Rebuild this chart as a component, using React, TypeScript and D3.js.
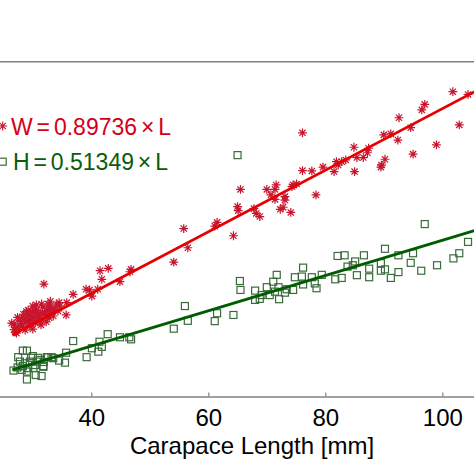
import React, { useEffect, useRef } from 'react';
import * as d3 from 'd3';

// Carapace length L [mm] vs width W and height H
const widthPoints: [number, number][] = [
  [101.8, 94.7], [104.4, 93.9], [102.9, 85.0], [97.0, 91.0], [96.5, 89.4],
  [92.6, 87.1], [94.6, 84.2], [91.2, 82.4], [90.0, 82.1], [92.4, 80.6],
  [99.0, 79.2], [95.0, 76.5], [84.9, 78.5], [87.4, 78.2], [87.2, 76.9],
  [86.5, 75.5], [85.4, 75.5], [90.2, 75.0], [89.6, 73.3], [89.5, 72.7],
  [85.0, 71.4], [83.5, 74.8], [82.8, 74.3], [82.2, 73.3], [81.9, 74.3],
  [81.5, 71.4], [79.6, 72.7], [77.7, 71.6], [78.4, 64.6], [76.1, 71.7],
  [65.5, 66.2], [70.0, 66.2], [71.6, 67.5], [71.4, 66.2], [70.7, 64.6],
  [71.4, 63.3], [73.1, 64.1], [73.1, 63.1], [72.3, 60.4], [72.8, 61.0],
  [74.1, 59.5], [74.5, 67.5], [75.1, 67.8], [74.3, 67.0], [65.0, 61.2],
  [65.1, 60.0], [67.8, 60.6], [68.2, 59.2], [68.8, 58.3], [61.5, 56.6],
  [61.1, 55.5], [64.3, 52.7], [55.8, 54.8], [56.5, 49.2], [54.1, 45.0],
  [76.1, 82.7], [31.9, 38.6], [36.9, 35.6], [39.1, 37.1], [41.5, 42.5],
  [42.9, 43.2], [41.8, 40.0], [41.1, 37.1], [40.1, 35.1], [35.7, 29.6],
  [44.9, 39.3], [46.8, 42.9], [46.6, 42.2], [34.5, 33.2], [35.8, 33.2],
  [32.6, 32.8], [32.9, 31.5], [30.0, 32.2], [26.8, 27.0], [27.0, 24.7],
  [27.2, 24.3], [26.4, 27.2], [39.7, 36.9],
  [27.8, 28.1], [28.2, 26.4], [28.5, 28.7], [28.8, 27.6], [29.2, 29.6],
  [29.5, 28.1], [29.5, 26.4], [29.9, 30.5], [30.2, 29.0], [30.4, 27.3],
  [30.7, 31.0], [30.9, 29.3], [31.2, 28.1], [31.6, 30.2], [31.7, 31.9],
  [32.1, 29.0], [32.4, 30.8], [32.6, 29.6], [32.9, 32.2], [33.3, 30.5],
  [33.6, 31.3], [34.0, 32.5], [28.7, 25.2], [27.6, 25.8], [29.2, 31.0],
  [30.6, 32.5], [31.4, 26.7], [30.0, 25.5], [32.3, 27.6], [33.5, 29.3],
  [34.3, 30.8], [34.6, 32.2], [27.0, 26.0], [28.0, 27.0], [29.0, 27.8],
  [30.0, 28.5], [31.0, 29.5], [32.0, 30.0], [29.6, 29.2], [30.8, 30.2],
  [28.4, 29.8], [26.8, 25.3], [27.4, 28.9], [28.9, 30.6], [30.3, 31.4],
  [31.5, 32.8], [33.0, 33.6], [29.7, 27.0], [31.1, 27.9], [32.8, 28.8],
];

const heightPoints: [number, number][] = [
  [97.0, 56.1], [104.4, 50.9], [102.9, 47.6], [101.9, 46.1], [99.1, 44.1],
  [96.4, 42.5], [94.6, 44.8], [95.0, 47.6], [92.5, 47.0], [92.5, 42.1],
  [91.2, 40.4], [90.2, 48.9], [90.2, 42.9], [89.5, 44.7], [89.5, 42.5],
  [87.5, 43.1], [87.5, 40.6], [86.6, 47.0], [85.4, 41.2], [85.1, 45.2],
  [84.7, 44.1], [83.8, 43.7], [83.3, 47.0], [82.1, 46.8], [82.8, 40.4],
  [81.7, 40.0], [79.4, 41.3], [77.7, 40.6], [78.5, 37.4], [78.2, 38.8],
  [76.2, 43.4], [74.8, 40.6], [76.0, 40.8], [76.2, 38.5], [74.5, 36.9],
  [73.4, 37.1], [73.1, 36.1], [71.7, 41.3], [71.1, 39.3], [70.0, 37.7],
  [72.0, 37.7], [71.4, 36.4], [70.5, 35.4], [72.1, 34.2], [69.1, 35.4],
  [68.0, 36.7], [68.0, 34.0], [68.8, 34.3], [65.4, 39.5], [65.5, 36.9],
  [64.3, 29.6], [61.5, 30.1], [61.1, 27.8], [56.0, 32.2], [56.5, 27.9],
  [54.1, 25.6], [65.0, 76.2], [42.8, 24.0], [44.9, 23.1], [46.8, 22.5],
  [46.5, 23.1], [41.4, 21.8], [41.8, 20.3], [41.2, 18.9], [40.1, 19.9],
  [39.2, 17.3], [36.9, 22.0], [35.7, 18.6], [35.5, 15.7], [34.5, 16.3],
  [33.5, 17.0], [32.6, 17.3], [28.3, 19.2], [29.0, 19.2], [26.7, 13.4],
  [27.4, 14.3], [29.0, 10.8], [30.5, 12.1], [31.5, 11.8], [29.2, 14.1],
  [31.8, 14.5], [30.0, 17.6], [32.4, 17.3], [33.2, 17.3], [31.8, 14.7],
  [27.8, 16.0], [28.7, 15.5], [29.5, 16.0], [30.7, 16.0], [31.2, 16.5],
  [28.1, 13.6], [29.0, 13.1], [30.1, 14.1], [27.5, 17.3], [30.4, 15.0],
  [30.9, 17.1], [31.9, 15.9], [28.3, 14.7], [29.7, 17.1],
];

const widthSlope = 0.89736;
const heightSlope = 0.51349;
const xTicks = [40, 60, 80, 100];
const fitRange = [26.5, 110];

const W = 474;
const H = 474;

const App: React.FC = () => {
  const svgRef = useRef<SVGSVGElement>(null);

  useEffect(() => {
    document.body.style.margin = '0';
    if (!svgRef.current) return;
    const svg = d3.select(svgRef.current);
    svg.selectAll('*').remove();

    const font = '"Liberation Sans", Arial, sans-serif';
    const plot = { left: -25.7, right: 500.8, top: 61.7, bottom: 396.5 };

    const x = d3.scaleLinear().domain([20, 110]).range([plot.left, plot.right]);
    const y = d3.scaleLinear().domain([5.83, 103.44]).range([plot.bottom, plot.top]);

    // frame lines (top and bottom)
    svg.append('line')
      .attr('x1', 0).attr('x2', W)
      .attr('y1', plot.top).attr('y2', plot.top)
      .attr('stroke', '#808080').attr('stroke-width', 1.4);

    const xAxisG = svg.append('g').attr('transform', `translate(0,${plot.bottom})`);
    xAxisG.call(d3.axisBottom(x).tickValues(xTicks).tickSizeInner(-4).tickSizeOuter(0).tickPadding(12) as any);
    xAxisG.select('.domain').attr('stroke', '#808080').attr('stroke-width', 1.4);
    xAxisG.selectAll('.tick line').attr('stroke', '#808080').attr('stroke-width', 1.2);
    xAxisG.selectAll('text')
      .attr('fill', '#000')
      .style('font-family', font)
      .style('font-size', '24px');

    svg.append('text')
      .attr('x', 252).attr('y', 454)
      .attr('text-anchor', 'middle')
      .style('font-family', font).style('font-size', '24px')
      .attr('fill', '#000')
      .text('Carapace Length [mm]');

    const starPath = 'M-4.4,0H4.4M0,-4.4V4.4M-3.1,-3.1L3.1,3.1M-3.1,3.1L3.1,-3.1';
    const starColor = '#c8142e';
    const squareColor = '#3a6b3a';

    // height squares
    svg.append('g').selectAll('rect')
      .data(heightPoints)
      .join('rect')
      .attr('x', d => x(d[0]) - 3.5)
      .attr('y', d => y(d[1]) - 3.5)
      .attr('width', 7).attr('height', 7)
      .attr('fill', 'none')
      .attr('stroke', squareColor)
      .attr('stroke-width', 1.2);

    // width stars
    svg.append('g').selectAll('path')
      .data(widthPoints)
      .join('path')
      .attr('transform', d => `translate(${x(d[0])},${y(d[1])})`)
      .attr('d', starPath)
      .attr('stroke', starColor)
      .attr('stroke-width', 1.2)
      .attr('fill', 'none');

    svg.append('path')
      .datum(fitRange)
      .attr('d', d3.line<number>().x(d => x(d)).y(d => y(d * widthSlope)) as any)
      .attr('stroke', '#e60000').attr('stroke-width', 2.8).attr('fill', 'none');
    svg.append('path')
      .datum(fitRange)
      .attr('d', d3.line<number>().x(d => x(d)).y(d => y(d * heightSlope)) as any)
      .attr('stroke', '#005c00').attr('stroke-width', 2.8).attr('fill', 'none');

    // legend
    svg.append('path')
      .attr('transform', 'translate(2.7,126)')
      .attr('d', starPath)
      .attr('stroke', starColor).attr('stroke-width', 1.1);
    svg.append('rect')
      .attr('x', -0.8).attr('y', 158.2).attr('width', 7).attr('height', 7)
      .attr('fill', 'none').attr('stroke', squareColor).attr('stroke-width', 1.2);

    svg.append('text')
      .attr('x', 11).attr('y', 135)
      .style('font-family', font).style('font-size', '23px')
      .style('word-spacing', '-2.5px')
      .attr('fill', '#d40018')
      .text(`W = ${widthSlope} × L`);
    svg.append('text')
      .attr('x', 13).attr('y', 169.5)
      .style('font-family', font).style('font-size', '23px')
      .style('word-spacing', '-2.5px')
      .attr('fill', '#0b5c0b')
      .text(`H = ${heightSlope} × L`);
  }, []);

  return (
    <svg ref={svgRef} width={W} height={H} style={{ display: 'block', background: '#fff' }} />
  );
};

export default App;
